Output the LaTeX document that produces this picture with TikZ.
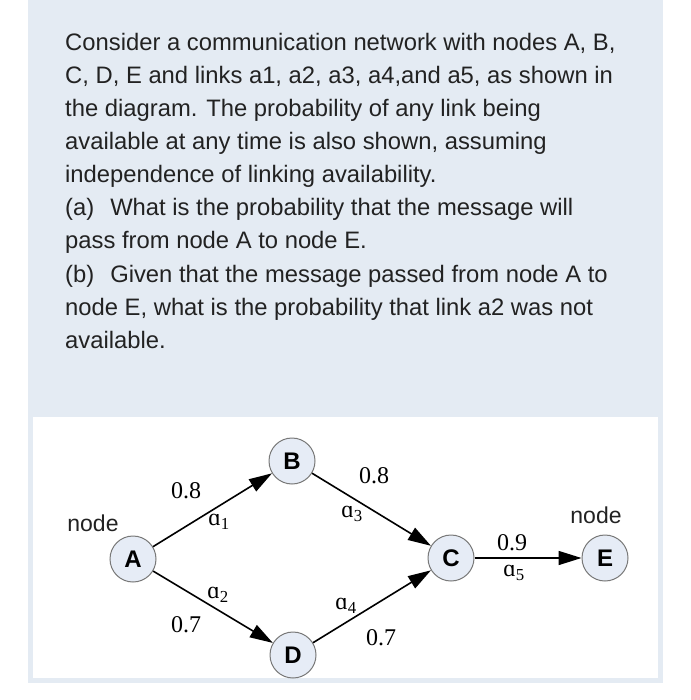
\documentclass[tikz,border=0pt]{standalone}
\usepackage{fontspec}
\setmainfont{Liberation Sans}
\newfontfamily\labelfont{Liberation Serif}
\usetikzlibrary{arrows.meta}
\definecolor{panel}{RGB}{228,235,243}
\definecolor{nodefill}{RGB}{230,236,246}
\definecolor{nodeline}{RGB}{120,120,120}
\definecolor{ink}{RGB}{34,34,34}

\tikzset{
  station/.style={circle, draw=nodeline, fill=nodefill, line width=1pt, minimum size=46pt, inner sep=0pt, font=\fontsize{24}{24}\selectfont\bfseries},
  link/.style={-{Triangle[length=23pt,width=14pt]}, line width=1.6pt},
  prob/.style={font=\fontsize{24}{24}\selectfont\labelfont, inner sep=0pt},
  qtext/.style={anchor=base west, inner sep=0pt, text=ink, font=\fontsize{23.8}{33}\selectfont},
  tag/.style={font=\fontsize{23}{23}\selectfont, inner sep=0pt, text=ink},
}

\begin{document}
\begin{tikzpicture}[x=1pt, y=-1pt]
  \useasboundingbox (0,0) rectangle (690,700);
  % background and panels
  \fill[white] (0,0) rectangle (690,700);
  \fill[panel] (28,0) rectangle (663,683);
  \fill[white] (33,417) rectangle (658,678);

  % question text
  \foreach \txt [count=\i] in {
    {Consider a communication network with nodes A, B,},
    {C, D, E and links a1, a2, a3, a4,and a5, as shown in},
    {the diagram. The probability of any link being},
    {available at any time is also shown, assuming},
    {independence of linking availability.},
    {(a)\hspace{16pt}What is the probability that the message will},
    {pass from node A to node E.},
    {(b)\hspace{16pt}Given that the message passed from node A to},
    {node E, what is the probability that link a2 was not},
    {available.}}
    \node[qtext] (q\i) at (65, {18+33*\i}) {\txt};

  % stations
  \node[station] (A) at (133,559) {A};
  \node[station] (B) at (292,461) {B};
  \node[station] (C) at (451,558) {C};
  \node[station] (D) at (293,655) {D};
  \node[station] (E) at (605,558) {E};
  \node[tag] (nodeA) at (93,523) {node};
  \node[tag] (nodeE) at (596,515) {node};

  % links
  \draw[link] (A) -- (B);
  \draw[link] (A) -- (D);
  \draw[link] (B) -- (C);
  \draw[link] (D) -- (C);
  \draw[link] (C) -- (E);

  % probabilities and link names
  \node[prob] (p1) at (186,491) {0.8};
  \node[prob] (n1) at (219,522) {ɑ\textsubscript{1}};
  \node[prob] (p2) at (186,625) {0.7};
  \node[prob] (n2) at (218,595) {ɑ\textsubscript{2}};
  \node[prob] (p3) at (374,476) {0.8};
  \node[prob] (n3) at (352,514) {ɑ\textsubscript{3}};
  \node[prob] (p4) at (381,638) {0.7};
  \node[prob] (n4) at (346,606) {ɑ\textsubscript{4}};
  \node[prob] (p5) at (512,543) {0.9};
  \node[prob] (n5) at (514,573) {ɑ\textsubscript{5}};
\end{tikzpicture}
\end{document}
